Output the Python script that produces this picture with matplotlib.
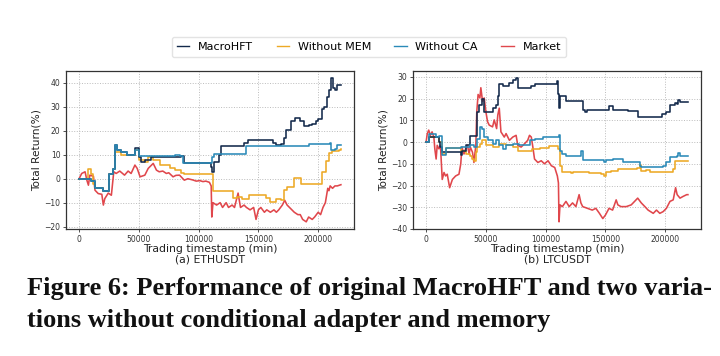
import matplotlib
matplotlib.use("Agg")
import matplotlib.pyplot as plt

# ---------------- data ----------------
series_names = ["MacroHFT", "Without MEM", "Without CA", "Market"]
colors = ["#13294b", "#eda925", "#2a8ab8", "#e0474c"]

# ETHUSDT (x in thousands of minutes)
eth_macro_x = [0, 7, 10, 13, 20, 25, 28, 30, 32, 35, 40, 45, 47, 50, 52, 55, 60, 70, 80, 85, 88, 100, 105, 110, 111,
               113, 117, 119, 130, 138, 141, 160, 162, 165, 169, 171, 173, 177, 181, 185, 188, 192, 195, 198, 200,
               203, 205, 207, 209, 210.5, 212, 214, 216, 219]
eth_macro_y = [0, 0, -1, -4, -5, 2, 4, 14, 12, 11, 10, 10, 13, 9, 7, 8, 9, 9, 9, 9.5, 6.5, 6.5, 6.5, 5, 3,
               7, 10, 13.5, 13.5, 15, 16, 16, 15, 14, 14.5, 17, 20.5, 24, 25.4, 24, 22, 22.5, 23, 24, 25,
               29, 30, 34, 37, 42, 38, 37, 39, 39]

eth_mem_x = [0, 5, 7.8, 10, 12, 13, 20, 25, 28, 30, 35, 40, 45, 47, 50, 55, 58, 62, 67.5, 76, 80, 85.5, 88,
             109, 110, 112, 128.6, 132, 136, 142.5, 156, 160, 165, 169, 171.7, 174, 180, 185.5, 199.4, 203.6,
             206.4, 209, 211.9, 217.5, 219]
eth_mem_y = [0, 0, 4, 2, -2, -4, -5, 2, 4, 11, 10, 10, 10, 12, 8, 7, 9, 7.8, 5.7, 4.3, 3.6, 2.2, 1.8,
             1.8, 2, -5, -8.2, -7.5, -8.5, -6.8, -8.2, -9.6, -8.5, -9, -4.7, -3.3, 0.5, -2, -2, 3,
             7.2, 10.7, 11.7, 12.2, 12.5]

eth_ca_x = [0, 7, 10, 13, 20, 25, 28, 30, 32, 35, 40, 45, 47, 50, 60, 70, 78, 80, 84, 87, 100, 110, 111,
            113, 122, 140, 192.5, 210, 211, 214, 216, 219]
eth_ca_y = [0, 0, -1, -4, -5, 2, 4, 14, 12, 11, 10, 10, 12, 9.5, 9.5, 9.5, 9.5, 10, 9.5, 6.5, 6.5, 6.5, 9,
            10.5, 10.5, 13.5, 14.5, 15, 12, 12.5, 14, 14]

eth_mkt_x = [0, 2.2, 5, 6.5, 7.8, 9, 12, 13.3, 16, 19, 20.3, 21.5, 24.4, 27, 29, 31, 34, 38, 41, 43.5, 46.7,
             48.6, 51, 55, 57.8, 62, 64.7, 67, 70, 73, 75, 78.6, 81, 84, 88, 91, 95, 98, 101, 103.6, 106, 109,
             110.5, 111, 112, 115, 118, 120, 123, 125, 128, 130, 133, 135, 138, 140, 143, 146, 148, 150, 152,
             155, 157, 160, 163, 165, 167, 170, 172, 174, 176, 178, 180, 183, 185, 187, 190, 192, 195, 197, 200,
             202, 204, 206, 208, 209, 210, 212, 214, 216, 219]
eth_mkt_y = [0, 2.2, 2.9, -0.6, -2.7, 1.5, 1, -4.8, -6.2, -6.5, -11, -8.3, -6, -6.9, 2.9, 2.2, 3.2, 1.5, 3.2, 2.2,
             5.7, 4.3, 0.8, 1.5, 4.3, 6.4, 3.6, 2.9, 3.2, 2.2, 2.5, 0.8, 1.4, 1.5, -0.6, 0, -0.5, -1, -0.8, -1.2,
             -1, -1.5, -3, -16, -10, -11, -10, -12, -10, -12, -11, -12, -6, -12, -11, -12, -13, -12, -17, -13,
             -12, -14, -13, -14, -13, -14, -13, -11, -9, -11, -12, -13, -14, -15, -15, -17, -18, -16, -17, -16,
             -14, -15, -12, -10, -4, -5, -3, -4, -3, -3, -2.5]

# LTCUSDT
ltc_macro_x = [0, 2.2, 7.9, 10.7, 12, 13.5, 22, 29, 30, 33, 37, 40, 43, 44, 46.6, 48.6, 52.8, 55.6, 58.4, 60, 61,
               64, 66.9, 69.7, 72.5, 75, 76.7, 88, 90.7, 109.8, 110.7, 111, 111.8, 116.9, 129.5, 131, 133, 135,
               150.5, 153, 156, 169, 177, 194, 197, 201, 204, 208, 210, 211, 212, 219]
ltc_macro_y = [0, 2.3, 2.3, 0, -2.3, -4.7, -4.7, -6, -4, -1.5, 2.8, 3, 14, 17, 20, 14, 14, 15.6, 17, 21, 26.5,
               25.8, 25.8, 27.3, 28.4, 29.4, 24.7, 25.8, 26.5, 28, 21.9, 15.6, 21, 19, 19, 14.8, 14, 14.8,
               14.8, 16.4, 14.8, 14.5, 11.7, 11.7, 12.8, 14, 17.2, 18, 17.5, 19.5, 18.4, 18.4]

ltc_mem_x = [0, 2.2, 7.9, 10.7, 13.5, 16.3, 27, 29, 33, 37, 38.8, 40, 41.6, 43, 45, 47, 50, 55.6, 61, 67, 72.5,
             76.7, 89, 95, 103, 109, 110.7, 111.8, 114, 117, 121, 123, 128, 136.5, 146, 149, 150.5, 154.8, 160.4,
             170, 176, 178.7, 180, 184, 187, 205, 206.7, 208, 219]
ltc_mem_y = [0, 2.3, 2.3, 0, -5.5, -2.8, -2.8, -3.9, -5.5, -6.2, -7.8, -8.6, -4.7, -2.3, -0.8, 0.8, -1.5, -2.3,
             -0.8, -1.5, -2.3, -3.9, -3.1, -2.8, -1.6, -2, -3.1, -10.9, -13.7, -14, -14.2, -13.7, -14, -14.2,
             -14.8, -15.6, -13.7, -13.3, -12.5, -12.2, -11.9, -10.6, -13.3, -12.9, -14, -14, -12.5, -8.6, -8.6]

ltc_ca_x = [0, 2.2, 5, 7.9, 10.7, 13.5, 16.3, 27, 29, 33, 37, 40, 43, 45, 46.6, 48.6, 51.4, 55.6, 58.4, 61, 64,
            66.9, 72.5, 78, 86.5, 90.7, 97.8, 109, 111, 111.8, 114, 117, 128, 129.5, 131, 147.8, 149, 150.5, 156,
            164.6, 176, 178.7, 180, 195.5, 198, 201, 204, 209.5, 211, 212, 219]
ltc_ca_y = [0, 3.9, 3.9, 2.3, 3, -6, -2.8, -2.8, -2.3, -2.3, -1.5, -2.3, 1.5, 7, 6.2, 2.3, 0.8, -0.8, 0.8, -1.5,
            -3.1, -1.5, -0.8, -1.5, 0.8, 1.5, 2.3, 2.3, 3.1, -3.9, -5.5, -6.2, -6.2, -3.9, -8.3, -8.3, -9.4,
            -8.3, -7.8, -9, -9.4, -10.9, -11.7, -11.7, -10.9, -9.4, -7, -6.6, -5, -6.6, -6.6]

ltc_mkt_x = [0, 1, 2.2, 3.6, 5, 6.5, 7.3, 8.4, 9.3, 10.7, 12, 13.5, 15, 16.3, 17.7, 19.7, 22, 24.7, 27.5, 29, 30,
             31.7, 33, 34.6, 36, 37, 38.8, 40, 41.6, 42.4, 43.5, 45, 45.8, 47.2, 48.6, 50, 51.4, 52.8, 55.6, 57,
             59, 60, 61.2, 62.6, 65.4, 66.9, 69.7, 72.5, 75.3, 76.7, 79.5, 82.3, 85, 86.5, 88, 89.3, 90.7, 93.5,
             96.3, 99, 102, 104.8, 107.6, 109.8, 110.7, 111.2, 112, 114, 117, 119.7, 122.5, 125.3, 128, 129.5,
             131, 135, 139, 142, 145, 147.8, 150, 153, 156, 159, 160.4, 163, 167.4, 171.6, 174.4, 177, 180, 183,
             185.7, 190, 192.7, 195.5, 198.3, 201, 204, 206.7, 208.7, 210, 212.4, 215, 218, 219]
ltc_mkt_y = [0, 3.9, 5.5, 3.1, 4.7, 2.3, -3.1, -7.8, -1.5, -3.1, -1.5, -17.2, -14, -15.6, -14.8, -21, -17.2,
             -15.6, -14.8, -10, -2.3, -5.5, -3.1, -1.5, -5.5, -2.3, -4.7, -9.4, -1.5, 14, 21.9, 20.3, 25, 18.8,
             20.3, 14, 9.4, 7.8, 7, 10.2, 6.2, 12.5, 15.6, 4.7, 2.3, 3.9, 0.8, 2.3, 3.1, -1.6, -2.3, -0.8, 0.8,
             3.1, 2.3, -2.3, -7.8, -9.4, -8.6, -10, -8.6, -10.9, -11.7, -15.6, -18.8, -36.7, -28.9, -29.7, -27.3,
             -29.7, -28, -29.7, -24.2, -28, -29.7, -30.5, -31.3, -30.5, -32.8, -35.2, -33.6, -30.5, -31.3, -26.6,
             -28.9, -29.7, -29.7, -28.9, -27.3, -25.8, -28, -29.7, -31.3, -32.8, -31.3, -32.8, -32, -30.5, -27.3,
             -26.6, -21, -24.2, -25.8, -25, -24.2, -24.2]

panels = [
    ("(a) ETHUSDT", [(eth_macro_x, eth_macro_y), (eth_mem_x, eth_mem_y), (eth_ca_x, eth_ca_y), (eth_mkt_x, eth_mkt_y)],
     [-20, -10, 0, 10, 20, 30, 40]),
    ("(b) LTCUSDT", [(ltc_macro_x, ltc_macro_y), (ltc_mem_x, ltc_mem_y), (ltc_ca_x, ltc_ca_y), (ltc_mkt_x, ltc_mkt_y)],
     [-40, -30, -20, -10, 0, 10, 20, 30]),
]
x_ticks = [0, 50000, 100000, 150000, 200000]

caption_line1 = "Figure 6: Performance of original MacroHFT and two varia-"
caption_line2 = "tions without conditional adapter and memory"

# ---------------- figure ----------------
W, H = 720, 356
fig = plt.figure(figsize=(W / 100, H / 100), dpi=100)
fig.patch.set_facecolor("white")

zorders = [3.0, 2.8, 3.1, 2.5]
axes_px = [(66, 71, 354, 229), (413, 71, 701, 229)]
handles = None
for (title, data, yticks), (x0, y0, x1, y1) in zip(panels, axes_px):
    ax = fig.add_axes([x0 / W, 1 - y1 / H, (x1 - x0) / W, (y1 - y0) / H])
    lines = []
    for i in range(4):
        xs, ys = data[i]
        xs = [v * 1000 for v in xs]
        ds = "steps-post" if i < 3 else "default"
        ln, = ax.plot(xs, ys, color=colors[i], lw=1.15, drawstyle=ds, label=series_names[i], zorder=zorders[i])
        lines.append(ln)
    handles = lines
    ax.set_xticks(x_ticks)
    ax.set_xticklabels([str(t) for t in x_ticks])
    ax.set_yticks(yticks)
    ax.set_yticklabels([("\u2212" + str(-t)) if t < 0 else str(t) for t in yticks])
    ax.tick_params(labelsize=5.5, length=2.5, width=0.6, pad=1.5, color="#333333", labelcolor="#333333")
    ax.grid(True, linestyle=":", color="#bbbbbb", linewidth=0.7)
    ax.set_axisbelow(True)
    for s in ax.spines.values():
        s.set_color("#333333")
        s.set_linewidth(0.9)
    ax.set_ylabel("Total Return(%)", fontsize=7.6, labelpad=2, color="#222222")
    ax.set_xlabel("Trading timestamp (min)", fontsize=7.8, labelpad=0.5, color="#222222")
    cx = (x0 + x1) / 2 / W
    fig.text(cx, 1 - 259 / H, title, ha="center", va="center", fontsize=7.8, color="#222222")

leg = fig.legend(handles, series_names, loc="center", bbox_to_anchor=(369 / W, 1 - 47 / H), ncol=4,
                 fontsize=8, frameon=True, handlelength=1.1, handletextpad=0.8, columnspacing=2.1,
                 borderpad=0.45, fancybox=True, framealpha=0.8, edgecolor="#dddddd")
for lh in leg.get_lines():
    lh.set_linewidth(1.0)

t1 = fig.text(27 / W, 1 - 295 / H, caption_line1, ha="left", va="baseline", fontsize=17,
              family="Liberation Serif", fontweight="bold", color="#111111")
t2 = fig.text(27 / W, 1 - 326.7 / H, caption_line2, ha="left", va="baseline", fontsize=17,
              family="Liberation Serif", fontweight="bold", color="#111111")

# fit caption line 1 to its measured width (27 -> 713 px)
fig.canvas.draw()
r = fig.canvas.get_renderer()
w1 = t1.get_window_extent(r).width
fs = 17 * (713 - 27) / w1
t1.set_fontsize(fs)
t2.set_fontsize(fs)

fig.savefig("out.png", dpi=100, facecolor="white")
